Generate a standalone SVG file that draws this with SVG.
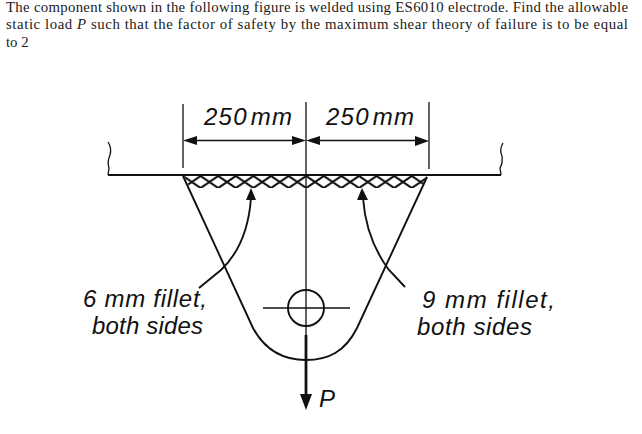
<svg xmlns="http://www.w3.org/2000/svg" width="642" height="434" viewBox="0 0 642 434">
<style>
.q{font-family:"Liberation Serif","DejaVu Serif",serif;font-size:14.8px;fill:#1a1a1a}
.h{font-family:"Liberation Sans",Arial,sans-serif;font-style:italic;font-size:24px;fill:#111}
.l{fill:none;stroke:#111;stroke-width:1.9}
.t{fill:none;stroke:#111;stroke-width:1.300}
.a{fill:#111}
</style>
<defs>
<pattern id="weld" x="183" y="176" width="17.6" height="12" patternUnits="userSpaceOnUse">
<path d="M0 0L17.6 12M17.6 0L0 12" fill="none" stroke="#111" stroke-width="2.100"/>
</pattern>
</defs>
<rect width="642" height="434" fill="#fff"/>
<g id="statement">
<text class="q" x="6" y="12" textLength="622" lengthAdjust="spacing">The component shown in the following figure is welded using ES6010 electrode. Find the allowable</text>
<text class="q" x="6" y="29" textLength="622" lengthAdjust="spacing">static load <tspan font-style="italic">P</tspan> such that the factor of safety by the maximum shear theory of failure is to be equal</text>
<text class="q" x="6" y="47">to 2</text>
</g>
<g id="plate">
<path class="t" d="M108 142Q112 148 110 155Q107 162 109 168L108 175"/>
<path class="t" d="M503 143Q499 150 502 156Q503 163 500 168L501 175"/>
<path class="l" d="M108 175H501"/>
</g>
<g id="weld-bead">
<path d="M184 176H427L421 188H190Z" fill="url(#weld)"/>
</g>
<g id="bracket">
<path class="l" d="M183 176L253 328C266 352 285 360 306 360C328 360 345 352 357 328L427 177"/>
<circle class="l" cx="306" cy="308" r="18"/>
<path class="t" d="M263 308H350"/>
</g>
<g id="connectors">
<path class="t" d="M183 104V168M306 102V360M429 102V169"/>
<path class="t" d="M190 140.500H298M314 140.500H422"/>
<path class="a" d="M183 140.500L197 136V145ZM306 140.500L292 136V145ZM306 140.500L320 136V145ZM429 141L415 136V146Z"/>
<path d="M306 335V396" fill="none" stroke="#111" stroke-width="2.800"/>
<path class="a" d="M300 394H312L306 410Z"/>
<path class="l" d="M199 288L221 270C240 252 249 225 251 198"/>
<path class="a" d="M251 188L256 200H246Z"/>
<path class="l" d="M405 287L389 270C374 250 365 225 363 198"/>
<path class="a" d="M362 188L368 200H357Z"/>
</g>
<g id="labels">
<text class="h" x="204" y="125" textLength="88" lengthAdjust="spacing" word-spacing="-5">250 mm</text>
<text class="h" x="326" y="125" textLength="88" lengthAdjust="spacing" word-spacing="-5">250 mm</text>
<text class="h" x="83" y="307" textLength="124" lengthAdjust="spacing">6 mm fillet,</text>
<text class="h" x="92" y="334" textLength="111" lengthAdjust="spacing">both sides</text>
<text class="h" x="422" y="308" textLength="133" lengthAdjust="spacing">9 mm fillet,</text>
<text class="h" x="417" y="335" textLength="115" lengthAdjust="spacing">both sides</text>
<text class="h" x="319" y="407">P</text>
</g>
</svg>
